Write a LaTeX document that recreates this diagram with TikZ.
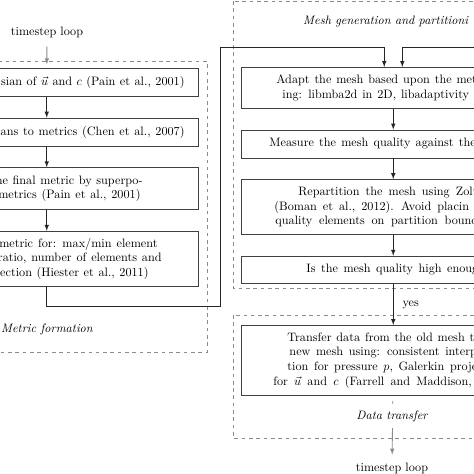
\documentclass[tikz,border=0pt]{standalone}
\usepackage{amsmath}
\usepackage{tikz}
\usetikzlibrary{positioning,arrows}

% word spacing of one line inside a box
\newcommand\wsp[1]{\spaceskip=#1\relax\xspaceskip=\dimexpr#1+1.1pt\relax}

\begin{document}
\begin{tikzpicture}[
  x=0.82pt, y=-0.82pt,
  node distance=17pt,
  mybox/.style={draw=black!75,line width=0.7pt,text width=249pt,inner sep=0pt},
  leftbox/.style={mybox,align=right},
  rightbox/.style={mybox,align=left},
  mygroup/.style={draw=black!45,dashed,line width=0.6pt},
  mylabel/.style={font=\itshape,fill=white,inner ysep=5pt},
  myflow/.style={draw=black!85,line width=0.7pt,-latex},
  greyflow/.style={draw=black!45,line width=0.7pt,-latex,shorten <=4pt,shorten >=3pt},
]
\useasboundingbox (0,0) rectangle (474,474);
\clip (0,0) rectangle (474,474);

% dashed groups
\draw[mygroup] (-140,61) rectangle (207,352);
\draw[mygroup] (233,1) rectangle (600,288);
\draw[mygroup] (233,315) rectangle (600,438);

% metric formation
\node (loopin) at (47,32) {timestep loop};
\node[leftbox,minimum height=23pt,anchor=north east] (hessian) at (199,68)
  {\wsp{3.7pt}sian of $\vec{u}$ and $c$ (Pain et al., 2001)\kern11.5pt};
\node[leftbox,minimum height=23pt,below=of hessian] (tometric)
  {\wsp{3.9pt}ians to metrics (Chen et al., 2007)\kern11.5pt};
\node[leftbox,minimum height=34.4pt,below=of tometric] (superpos)
  {\wsp{3.8pt}he final metric by superpo-\kern45.9pt\\
   \wsp{3.9pt}metrics (Pain et al., 2001)\kern47.6pt};
\node[leftbox,minimum height=45.1pt,below=of superpos] (bound)
  {\wsp{4.1pt}metric for: max/min element\kern33.6pt\\
   \wsp{4pt}ratio, number of elements and\kern30.3pt\\
   \wsp{3.8pt}rection (Hiester et al., 2011)\kern41pt};
\node[mylabel] (metriclabel) at (47,329) {Metric formation};

% mesh generation and partitioning
\node[font=\itshape,anchor=west,inner sep=0pt] (meshlabel) at (303,22)
  {Mesh generation and partitioni};
\node[rightbox,minimum height=33.6pt,anchor=north west] (adapt) at (241,67)
  {\hspace*{28.7pt}\wsp{4pt}Adapt the mesh based upon the met\\
   \hspace*{33.6pt}\wsp{4pt}ing: libmba2d in 2D, libadaptivity};
\node[rightbox,minimum height=23pt,below=of adapt] (measure)
  {\hspace*{23pt}\wsp{4.25pt}Measure the mesh quality against the};
\node[rightbox,minimum height=45.1pt,below=of measure] (repart)
  {\hspace*{46.7pt}\wsp{5pt}Repartition the mesh using Zolt\\
   \hspace*{27.1pt}\wsp{4.9pt}(Boman et al., 2012). Avoid placin\\
   \hspace*{27.9pt}\wsp{5.5pt}quality elements on partition bound};
\node[rightbox,minimum height=22.6pt,below=of repart] (isok)
  {\hspace*{53.3pt}\wsp{4.5pt}Is the mesh quality high enoug};

% data transfer
\node[rightbox,minimum height=57.4pt,below=33.5pt of isok] (transfer)
  {\hspace*{37.7pt}\wsp{4pt}Transfer data from the old mesh t\\
   \hspace*{39.4pt}\wsp{4.6pt}new mesh using: consistent interp\\
   \hspace*{37.7pt}\wsp{4.6pt}tion for pressure $p$, Galerkin proje\\
   \hspace*{26.2pt}\wsp{5.1pt}for $\vec{u}$ and $c$ (Farrell and Maddison,};
\node (loopout) at (392,468) {timestep loop};

\coordinate (turnA) at (220,306);
\coordinate (turnB) at (220,47);
\coordinate (loopback) at (560,47);

\path (loopin) edge[greyflow] (hessian)
(hessian) edge[myflow] (tometric)
(tometric) edge[myflow] (superpos)
(superpos) edge[myflow] (bound)
(adapt) edge[myflow] (measure)
(measure) edge[myflow] (repart)
(repart) edge[myflow] (isok)
(isok) edge[myflow] node[right=4pt] (yes) {yes} (transfer)
(transfer) edge[greyflow] (loopout);

\draw[myflow] (bound.south) |- (turnA) -- (turnB) -| ([xshift=-7.4pt]adapt.north);
\draw[myflow] (isok.east) -| (loopback) -| ([xshift=7.4pt]adapt.north);

\node[mylabel] (transferlabel) at (392,416) {Data transfer};
\end{tikzpicture}
\end{document}
